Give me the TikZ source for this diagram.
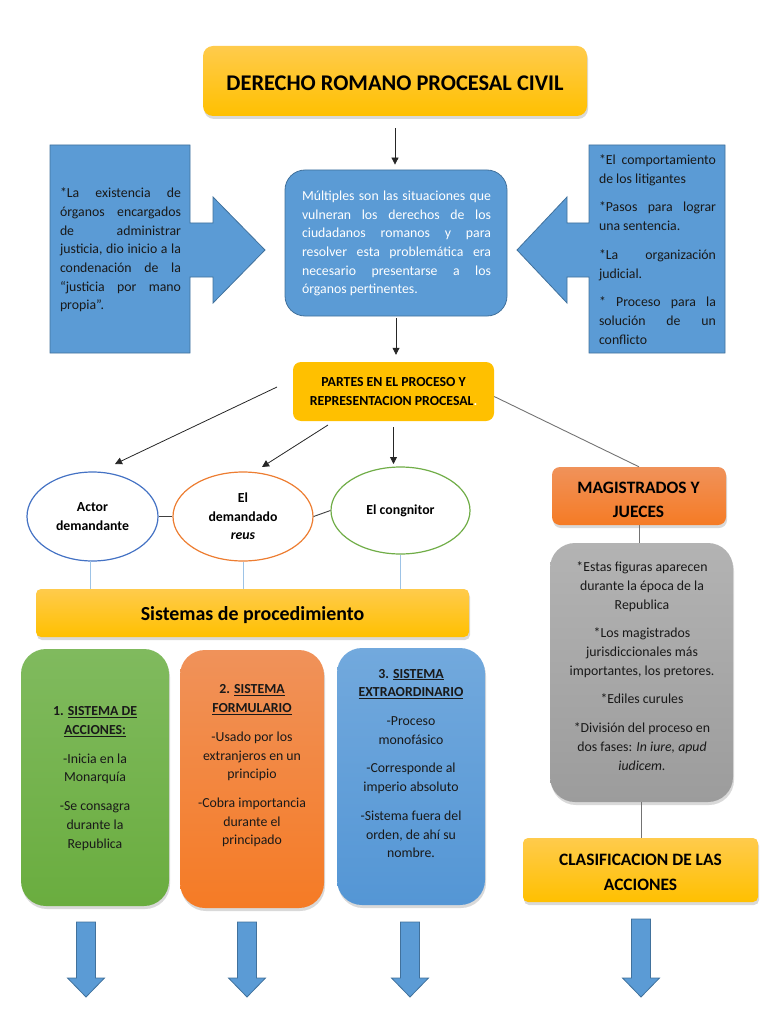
\documentclass[tikz,border=0pt]{standalone}
\usepackage{fontspec}
\setmainfont{Carlito}
\usetikzlibrary{arrows.meta,shadows,shapes.geometric,calc}
\definecolor{ylwT}{HTML}{FFCB4C}
\definecolor{ylwB}{HTML}{FFC000}
\definecolor{bluF}{HTML}{5B9BD5}
\definecolor{bluD}{HTML}{41719C}
\definecolor{grnT}{HTML}{80BA5E}
\definecolor{grnB}{HTML}{6AAD3F}
\definecolor{orgT}{HTML}{F0925A}
\definecolor{orgB}{HTML}{F57B25}
\definecolor{bl3T}{HTML}{72A9DD}
\definecolor{bl3B}{HTML}{5496D5}
\definecolor{gryT}{HTML}{B3B3B3}
\definecolor{gryB}{HTML}{9C9C9C}
\definecolor{elB}{HTML}{4472C4}
\definecolor{elO}{HTML}{ED7D31}
\definecolor{elG}{HTML}{70AD47}
\definecolor{ltB}{HTML}{9DC3E6}
\newcommand\fsbody{\fontsize{13.8pt}{18.7pt}\selectfont}
\begin{document}
\begin{tikzpicture}[x=1pt,y=-1pt,
  shd/.style={drop shadow={opacity=0.3,shadow xshift=1pt,shadow yshift=-3pt}},
  ybox/.style={top color=ylwT,bottom color=ylwB,draw=none,shd,inner sep=0pt,align=center,font=\bfseries},
  arr/.style={-{Triangle[length=7pt,width=7pt]},line width=0.8pt,black!85},
  gline/.style={line width=0.9pt,black!55},
  lbline/.style={line width=0.9pt,ltB},
  bigarrow/.style={fill=bluF,draw=bluD,line width=0.8pt},
  ell/.style={ellipse,line width=1.2pt,inner sep=0pt,align=center,font=\fsbody\bfseries,fill=white},
  txt/.style={align=center,inner sep=0pt,text=black!90}
]
\useasboundingbox (0,0) rectangle (768,1024);

% title
\node[ybox,minimum width=384pt,minimum height=70pt,rounded corners=10pt] (title) at (395,81) {};
\node[txt,font=\fontsize{22.4pt}{26pt}\selectfont\bfseries,text=black] (titletxt) at (395,83) {DERECHO ROMANO PROCESAL CIVIL};

% center box
\node[fill=bluF,draw=bluD,line width=0.8pt,rounded corners=20pt,minimum width=222pt,minimum height=146pt,inner sep=0pt] (ctr) at (396,243) {};
\node[text=white,text width=189pt,align=justify,font=\fsbody,inner sep=0pt] (ctrtxt) at (396.5,243.5) {Múltiples son las situaciones que\linebreak vulneran los derechos de los\linebreak ciudadanos romanos y para\linebreak resolver esta problemática era\linebreak necesario presentarse a los\linebreak órganos pertinentes.};

% left arrow callout
\draw[bigarrow] (50,145) -- (190,145) -- (190,223) -- (213,223) -- (213,197) -- (265,250) -- (213,303) -- (213,277) -- (190,277) -- (190,353) -- (50,353) -- cycle;
\node[text width=121pt,align=justify,font=\fsbody,inner sep=0pt,text=black!90] (lefttxt) at (120.5,250) {*La existencia de\linebreak órganos encargados\linebreak de administrar\linebreak justicia, dio inicio a la\linebreak condenación de la\linebreak “justicia por mano\linebreak propia”.};

% right arrow callout
\draw[bigarrow] (725,145) -- (589,145) -- (589,223) -- (567,223) -- (567,197) -- (517,250) -- (567,303) -- (567,277) -- (589,277) -- (589,353) -- (725,353) -- cycle;
\node[text width=117pt,align=justify,font=\fsbody,inner sep=0pt,text=black!90] (righttxt) at (657.5,249.5) {*El comportamiento\linebreak de los litigantes\\[10pt]*Pasos para lograr\linebreak una sentencia.\\[10pt]*La organización\linebreak judicial.\\[10pt]* Proceso para la\linebreak solución de un\linebreak conflicto};

% partes
\node[fill=ylwB,rounded corners=8pt,minimum width=201pt,minimum height=59pt,inner sep=0pt,align=center,font=\fsbody\bfseries] (partes) at (393.5,391.5) {PARTES EN EL PROCESO Y\\REPRESENTACION PROCESAL{\color{white}.}};

\draw[arr,shorten <=12pt,shorten >=5pt] (title.south) -- (title.south |- ctr.north);
\draw[arr,shorten <=2pt,shorten >=7pt] (ctr.south) -- (ctr.south |- partes.north);

% ellipses
\node[ell,draw=elB,minimum width=131pt,minimum height=89pt] (act) at (92.5,516.5) {Actor\\demandante};
\node[ell,draw=elO,minimum width=140pt,minimum height=89pt] (dem) at (243,516.5) {El\\demandado\\\textit{reus}};
\node[ell,draw=elG,minimum width=139pt,minimum height=87pt] (cong) at (400.5,510.5) {El congnitor};

\coordinate (pa1) at (277,387); \coordinate (pe1) at (115,464);
\coordinate (pa2) at (328,425); \coordinate (pe2) at (262,467);
\coordinate (pa3) at (393.5,427); \coordinate (pe3) at (393.5,464);
\draw[arr] (pa1) -- (pe1);
\draw[arr] (pa2) -- (pe2);
\draw[arr] (pa3) -- (pe3);

\draw[line width=0.9pt,black!75] (act.east) -- (dem.west);
\draw[line width=0.9pt,black!75] (dem.east) -- (cong.west);

% sistemas bar
\node[ybox,minimum width=433pt,minimum height=48pt,rounded corners=5pt] (sis) at (252.5,613) {};
\node[txt,font=\fontsize{19.9pt}{23pt}\selectfont\bfseries,text=black] (sistxt) at (252.5,615) {Sistemas de procedimiento};
\coordinate (al) at (90,561);
\draw[lbline] (al) -- (al |- sis.north);
\draw[lbline] (dem.south) -- (dem.south |- sis.north);
\draw[lbline] (cong.south) -- (cong.south |- sis.north);

% three system boxes
\node[top color=grnT,bottom color=grnB,rounded corners=25pt,minimum width=148pt,minimum height=257pt,inner sep=0pt,shd] (s1) at (95,777.5) {};
\node[txt,font=\fsbody] (s1txt) at (95,778.5) {\textbf{1. \underline{SISTEMA DE}}\\\textbf{\underline{ACCIONES:}}\\[10pt]-Inicia en la\\Monarquía\\[10pt]-Se consagra\\durante la\\Republica};
\node[top color=orgT,bottom color=orgB,rounded corners=25pt,minimum width=144pt,minimum height=258pt,inner sep=0pt,shd] (s2) at (252,779) {};
\node[txt,font=\fsbody] (s2txt) at (252,766) {\textbf{2. \underline{SISTEMA}}\\\textbf{\underline{FORMULARIO}}\\[10pt]-Usado por los\\extranjeros en un\\principio\\[10pt]-Cobra importancia\\durante el\\principado};
\node[top color=bl3T,bottom color=bl3B,rounded corners=25pt,minimum width=148pt,minimum height=257pt,inner sep=0pt,shd] (s3) at (411,776.5) {};
\node[txt,font=\fsbody] (s3txt) at (411,763.5) {\textbf{3. \underline{SISTEMA}}\\\textbf{\underline{EXTRAORDINARIO}}\\[10pt]-Proceso\\monofásico\\[10pt]-Corresponde al\\imperio absoluto\\[10pt]-Sistema fuera del\\orden, de ahí su\\nombre.};

% magistrados
\node[top color=orgT,bottom color=orgB,rounded corners=8pt,minimum width=174pt,minimum height=58pt,inner sep=0pt,shd] (magis) at (639,496) {};
\node[txt,font=\fontsize{17.4pt}{24pt}\selectfont\bfseries,text=black] (magistxt) at (638.5,500) {MAGISTRADOS Y\\JUECES};
\draw[gline] ($(partes.east)+(0,5)$) -- (magis.north);

% grey box
\node[top color=gryT,bottom color=gryB,rounded corners=25pt,minimum width=183pt,minimum height=259pt,inner sep=0pt,shd] (grey) at (641.5,672.5) {};
\node[txt,font=\fsbody] (greytxt) at (642,666) {*Estas figuras aparecen\\durante la época de la\\Republica\\[10pt]*Los magistrados\\jurisdiccionales más\\importantes, los pretores.\\[10pt]*Ediles curules\\[10pt]*División del proceso en\\dos fases: \textit{In iure, apud}\\\textit{iudicem.}};
\draw[gline] (magis.south) -- (magis.south |- grey.north);

% clasificacion
\node[ybox,minimum width=235pt,minimum height=64pt,rounded corners=5pt] (clasif) at (640.5,870) {};
\node[txt,font=\fontsize{17.4pt}{24.5pt}\selectfont\bfseries,text=black] (clasiftxt) at (640.5,872.5) {CLASIFICACION DE LAS\\ACCIONES};
\draw[gline] (grey.south) -- (grey.south |- clasif.north);

% bottom arrows
\foreach \xx/\tt in {86/922,247/922,410/922,641/919}{
  \draw[bigarrow] ({\xx-9.5},\tt) -- ({\xx+9.5},\tt) -- ({\xx+9.5},978) -- ({\xx+18.5},978) -- (\xx,997) -- ({\xx-18.5},978) -- ({\xx-9.5},978) -- cycle;
}
\end{tikzpicture}
\end{document}
